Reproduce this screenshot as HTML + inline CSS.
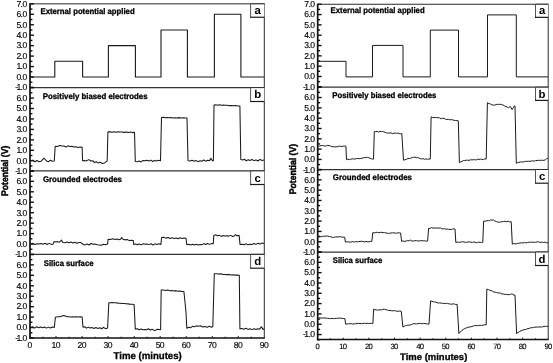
<!DOCTYPE html>
<html><head><meta charset="utf-8"><title>Potential vs time</title>
<style>
html,body{margin:0;padding:0;background:#fff;}
body{width:553px;height:363px;overflow:hidden;}
svg{display:block;}
text{font-family:'Liberation Sans', Arial, sans-serif;fill:#000;text-rendering:geometricPrecision;}
.yl{font-size:8.6px;text-anchor:end;letter-spacing:-0.6px;stroke:#111;stroke-width:0.15px;}
.xl{font-size:8.6px;text-anchor:middle;letter-spacing:-0.6px;stroke:#111;stroke-width:0.15px;}
.tt{font-size:8.2px;font-weight:bold;stroke:#000;stroke-width:0.3px;}
.lt{font-size:11.4px;font-weight:bold;text-anchor:middle;}
.xt{font-size:9.6px;font-weight:bold;stroke:#000;stroke-width:0.3px;}
.yt{font-size:9.6px;font-weight:bold;text-anchor:middle;stroke:#000;stroke-width:0.45px;}
</style></head>
<body>
<svg width="553" height="363" viewBox="0 0 553 363">
<rect width="553" height="363" fill="#fff"/>
<line x1="30.0" y1="3.85" x2="264.3" y2="3.85" stroke="#2a2a2a" stroke-width="1"/>
<line x1="30.0" y1="87.6" x2="264.3" y2="87.6" stroke="#333" stroke-width="1.25"/>
<line x1="30.0" y1="170.9" x2="264.3" y2="170.9" stroke="#333" stroke-width="1.25"/>
<line x1="30.0" y1="254.4" x2="264.3" y2="254.4" stroke="#333" stroke-width="1.25"/>
<line x1="264.3" y1="3.35" x2="264.3" y2="338.0" stroke="#2a2a2a" stroke-width="1"/>
<line x1="29.2" y1="338.0" x2="264.8" y2="338.0" stroke="#111" stroke-width="1.5"/>
<line x1="30.0" y1="3.35" x2="30.0" y2="338.75" stroke="#111" stroke-width="1.7"/>
<line x1="30.0" y1="3.85" x2="33.9" y2="3.85" stroke="#111" stroke-width="1.4"/>
<text x="26.6" y="6.69" class="yl">7.0</text>
<line x1="30.0" y1="9.07" x2="32.4" y2="9.07" stroke="#111" stroke-width="1.4"/>
<line x1="30.0" y1="14.3" x2="33.9" y2="14.3" stroke="#111" stroke-width="1.4"/>
<text x="26.6" y="17.14" class="yl">6.0</text>
<line x1="30.0" y1="19.52" x2="32.4" y2="19.52" stroke="#111" stroke-width="1.4"/>
<line x1="30.0" y1="24.75" x2="33.9" y2="24.75" stroke="#111" stroke-width="1.4"/>
<text x="26.6" y="27.59" class="yl">5.0</text>
<line x1="30.0" y1="29.98" x2="32.4" y2="29.98" stroke="#111" stroke-width="1.4"/>
<line x1="30.0" y1="35.2" x2="33.9" y2="35.2" stroke="#111" stroke-width="1.4"/>
<text x="26.6" y="38.04" class="yl">4.0</text>
<line x1="30.0" y1="40.42" x2="32.4" y2="40.42" stroke="#111" stroke-width="1.4"/>
<line x1="30.0" y1="45.65" x2="33.9" y2="45.65" stroke="#111" stroke-width="1.4"/>
<text x="26.6" y="48.49" class="yl">3.0</text>
<line x1="30.0" y1="50.88" x2="32.4" y2="50.88" stroke="#111" stroke-width="1.4"/>
<line x1="30.0" y1="56.1" x2="33.9" y2="56.1" stroke="#111" stroke-width="1.4"/>
<text x="26.6" y="58.94" class="yl">2.0</text>
<line x1="30.0" y1="61.32" x2="32.4" y2="61.32" stroke="#111" stroke-width="1.4"/>
<line x1="30.0" y1="66.55" x2="33.9" y2="66.55" stroke="#111" stroke-width="1.4"/>
<text x="26.6" y="69.39" class="yl">1.0</text>
<line x1="30.0" y1="71.77" x2="32.4" y2="71.77" stroke="#111" stroke-width="1.4"/>
<line x1="30.0" y1="77" x2="33.9" y2="77" stroke="#111" stroke-width="1.4"/>
<text x="26.6" y="79.84" class="yl">0.0</text>
<line x1="30.0" y1="82.22" x2="32.4" y2="82.22" stroke="#111" stroke-width="1.4"/>
<line x1="30.0" y1="87.45" x2="33.9" y2="87.45" stroke="#111" stroke-width="1.4"/>
<text x="26.6" y="90.29" class="yl">1.0</text>
<text x="15.2" y="90.29" class="yl" style="text-anchor:start">-</text>
<line x1="30.0" y1="87.6" x2="33.9" y2="87.6" stroke="#111" stroke-width="1.4"/>
<line x1="30.0" y1="92.82" x2="32.4" y2="92.82" stroke="#111" stroke-width="1.4"/>
<line x1="30.0" y1="98.05" x2="33.9" y2="98.05" stroke="#111" stroke-width="1.4"/>
<text x="26.6" y="100.89" class="yl">6.0</text>
<line x1="30.0" y1="103.27" x2="32.4" y2="103.27" stroke="#111" stroke-width="1.4"/>
<line x1="30.0" y1="108.5" x2="33.9" y2="108.5" stroke="#111" stroke-width="1.4"/>
<text x="26.6" y="111.34" class="yl">5.0</text>
<line x1="30.0" y1="113.72" x2="32.4" y2="113.72" stroke="#111" stroke-width="1.4"/>
<line x1="30.0" y1="118.95" x2="33.9" y2="118.95" stroke="#111" stroke-width="1.4"/>
<text x="26.6" y="121.79" class="yl">4.0</text>
<line x1="30.0" y1="124.17" x2="32.4" y2="124.17" stroke="#111" stroke-width="1.4"/>
<line x1="30.0" y1="129.4" x2="33.9" y2="129.4" stroke="#111" stroke-width="1.4"/>
<text x="26.6" y="132.24" class="yl">3.0</text>
<line x1="30.0" y1="134.62" x2="32.4" y2="134.62" stroke="#111" stroke-width="1.4"/>
<line x1="30.0" y1="139.85" x2="33.9" y2="139.85" stroke="#111" stroke-width="1.4"/>
<text x="26.6" y="142.69" class="yl">2.0</text>
<line x1="30.0" y1="145.07" x2="32.4" y2="145.07" stroke="#111" stroke-width="1.4"/>
<line x1="30.0" y1="150.3" x2="33.9" y2="150.3" stroke="#111" stroke-width="1.4"/>
<text x="26.6" y="153.14" class="yl">1.0</text>
<line x1="30.0" y1="155.52" x2="32.4" y2="155.52" stroke="#111" stroke-width="1.4"/>
<line x1="30.0" y1="160.75" x2="33.9" y2="160.75" stroke="#111" stroke-width="1.4"/>
<text x="26.6" y="163.59" class="yl">0.0</text>
<line x1="30.0" y1="165.97" x2="32.4" y2="165.97" stroke="#111" stroke-width="1.4"/>
<line x1="30.0" y1="171.2" x2="33.9" y2="171.2" stroke="#111" stroke-width="1.4"/>
<text x="26.6" y="174.04" class="yl">1.0</text>
<text x="15.2" y="174.04" class="yl" style="text-anchor:start">-</text>
<line x1="30.0" y1="170.9" x2="33.9" y2="170.9" stroke="#111" stroke-width="1.4"/>
<line x1="30.0" y1="176.12" x2="32.4" y2="176.12" stroke="#111" stroke-width="1.4"/>
<line x1="30.0" y1="181.35" x2="33.9" y2="181.35" stroke="#111" stroke-width="1.4"/>
<text x="26.6" y="184.19" class="yl">6.0</text>
<line x1="30.0" y1="186.58" x2="32.4" y2="186.58" stroke="#111" stroke-width="1.4"/>
<line x1="30.0" y1="191.8" x2="33.9" y2="191.8" stroke="#111" stroke-width="1.4"/>
<text x="26.6" y="194.64" class="yl">5.0</text>
<line x1="30.0" y1="197.03" x2="32.4" y2="197.03" stroke="#111" stroke-width="1.4"/>
<line x1="30.0" y1="202.25" x2="33.9" y2="202.25" stroke="#111" stroke-width="1.4"/>
<text x="26.6" y="205.09" class="yl">4.0</text>
<line x1="30.0" y1="207.47" x2="32.4" y2="207.47" stroke="#111" stroke-width="1.4"/>
<line x1="30.0" y1="212.7" x2="33.9" y2="212.7" stroke="#111" stroke-width="1.4"/>
<text x="26.6" y="215.54" class="yl">3.0</text>
<line x1="30.0" y1="217.93" x2="32.4" y2="217.93" stroke="#111" stroke-width="1.4"/>
<line x1="30.0" y1="223.15" x2="33.9" y2="223.15" stroke="#111" stroke-width="1.4"/>
<text x="26.6" y="225.99" class="yl">2.0</text>
<line x1="30.0" y1="228.38" x2="32.4" y2="228.38" stroke="#111" stroke-width="1.4"/>
<line x1="30.0" y1="233.6" x2="33.9" y2="233.6" stroke="#111" stroke-width="1.4"/>
<text x="26.6" y="236.44" class="yl">1.0</text>
<line x1="30.0" y1="238.82" x2="32.4" y2="238.82" stroke="#111" stroke-width="1.4"/>
<line x1="30.0" y1="244.05" x2="33.9" y2="244.05" stroke="#111" stroke-width="1.4"/>
<text x="26.6" y="246.89" class="yl">0.0</text>
<line x1="30.0" y1="249.28" x2="32.4" y2="249.28" stroke="#111" stroke-width="1.4"/>
<line x1="30.0" y1="254.5" x2="33.9" y2="254.5" stroke="#111" stroke-width="1.4"/>
<text x="26.6" y="257.34" class="yl">1.0</text>
<text x="15.2" y="257.34" class="yl" style="text-anchor:start">-</text>
<line x1="30.0" y1="254.4" x2="33.9" y2="254.4" stroke="#111" stroke-width="1.4"/>
<line x1="30.0" y1="259.62" x2="32.4" y2="259.62" stroke="#111" stroke-width="1.4"/>
<line x1="30.0" y1="264.85" x2="33.9" y2="264.85" stroke="#111" stroke-width="1.4"/>
<text x="26.6" y="267.69" class="yl">6.0</text>
<line x1="30.0" y1="270.07" x2="32.4" y2="270.07" stroke="#111" stroke-width="1.4"/>
<line x1="30.0" y1="275.3" x2="33.9" y2="275.3" stroke="#111" stroke-width="1.4"/>
<text x="26.6" y="278.14" class="yl">5.0</text>
<line x1="30.0" y1="280.52" x2="32.4" y2="280.52" stroke="#111" stroke-width="1.4"/>
<line x1="30.0" y1="285.75" x2="33.9" y2="285.75" stroke="#111" stroke-width="1.4"/>
<text x="26.6" y="288.59" class="yl">4.0</text>
<line x1="30.0" y1="290.98" x2="32.4" y2="290.98" stroke="#111" stroke-width="1.4"/>
<line x1="30.0" y1="296.2" x2="33.9" y2="296.2" stroke="#111" stroke-width="1.4"/>
<text x="26.6" y="299.04" class="yl">3.0</text>
<line x1="30.0" y1="301.43" x2="32.4" y2="301.43" stroke="#111" stroke-width="1.4"/>
<line x1="30.0" y1="306.65" x2="33.9" y2="306.65" stroke="#111" stroke-width="1.4"/>
<text x="26.6" y="309.49" class="yl">2.0</text>
<line x1="30.0" y1="311.88" x2="32.4" y2="311.88" stroke="#111" stroke-width="1.4"/>
<line x1="30.0" y1="317.1" x2="33.9" y2="317.1" stroke="#111" stroke-width="1.4"/>
<text x="26.6" y="319.94" class="yl">1.0</text>
<line x1="30.0" y1="322.32" x2="32.4" y2="322.32" stroke="#111" stroke-width="1.4"/>
<line x1="30.0" y1="327.55" x2="33.9" y2="327.55" stroke="#111" stroke-width="1.4"/>
<text x="26.6" y="330.39" class="yl">0.0</text>
<line x1="30.0" y1="332.77" x2="32.4" y2="332.77" stroke="#111" stroke-width="1.4"/>
<line x1="30.0" y1="338" x2="33.9" y2="338" stroke="#111" stroke-width="1.4"/>
<text x="26.6" y="340.84" class="yl">1.0</text>
<text x="15.2" y="340.84" class="yl" style="text-anchor:start">-</text>
<text x="29.7" y="347.7" class="xl" style="font-size:8.6px;letter-spacing:-0.6px">0</text>
<line x1="43.02" y1="338.0" x2="43.02" y2="336.7" stroke="#111" stroke-width="1"/>
<line x1="56.03" y1="338.0" x2="56.03" y2="336.1" stroke="#111" stroke-width="1"/>
<text x="55.73" y="347.7" class="xl" style="font-size:8.6px;letter-spacing:-0.6px">10</text>
<line x1="69.05" y1="338.0" x2="69.05" y2="336.7" stroke="#111" stroke-width="1"/>
<line x1="82.07" y1="338.0" x2="82.07" y2="336.1" stroke="#111" stroke-width="1"/>
<text x="81.77" y="347.7" class="xl" style="font-size:8.6px;letter-spacing:-0.6px">20</text>
<line x1="95.08" y1="338.0" x2="95.08" y2="336.7" stroke="#111" stroke-width="1"/>
<line x1="108.1" y1="338.0" x2="108.1" y2="336.1" stroke="#111" stroke-width="1"/>
<text x="107.8" y="347.7" class="xl" style="font-size:8.6px;letter-spacing:-0.6px">30</text>
<line x1="121.12" y1="338.0" x2="121.12" y2="336.7" stroke="#111" stroke-width="1"/>
<line x1="134.13" y1="338.0" x2="134.13" y2="336.1" stroke="#111" stroke-width="1"/>
<text x="133.83" y="347.7" class="xl" style="font-size:8.6px;letter-spacing:-0.6px">40</text>
<line x1="147.15" y1="338.0" x2="147.15" y2="336.7" stroke="#111" stroke-width="1"/>
<line x1="160.16" y1="338.0" x2="160.16" y2="336.1" stroke="#111" stroke-width="1"/>
<text x="159.86" y="347.7" class="xl" style="font-size:8.6px;letter-spacing:-0.6px">50</text>
<line x1="173.18" y1="338.0" x2="173.18" y2="336.7" stroke="#111" stroke-width="1"/>
<line x1="186.2" y1="338.0" x2="186.2" y2="336.1" stroke="#111" stroke-width="1"/>
<text x="185.9" y="347.7" class="xl" style="font-size:8.6px;letter-spacing:-0.6px">60</text>
<line x1="199.21" y1="338.0" x2="199.21" y2="336.7" stroke="#111" stroke-width="1"/>
<line x1="212.23" y1="338.0" x2="212.23" y2="336.1" stroke="#111" stroke-width="1"/>
<text x="211.93" y="347.7" class="xl" style="font-size:8.6px;letter-spacing:-0.6px">70</text>
<line x1="225.25" y1="338.0" x2="225.25" y2="336.7" stroke="#111" stroke-width="1"/>
<line x1="238.26" y1="338.0" x2="238.26" y2="336.1" stroke="#111" stroke-width="1"/>
<text x="237.96" y="347.7" class="xl" style="font-size:8.6px;letter-spacing:-0.6px">80</text>
<line x1="251.28" y1="338.0" x2="251.28" y2="336.7" stroke="#111" stroke-width="1"/>
<text x="264" y="347.7" class="xl" style="font-size:8.6px;letter-spacing:-0.6px">90</text>
<text x="40.51" y="13.6" class="tt" textLength="94.13" lengthAdjust="spacingAndGlyphs">External potential applied</text>
<text x="42.76" y="98.5" class="tt" textLength="104.79" lengthAdjust="spacingAndGlyphs">Positively biased electrodes</text>
<text x="42.91" y="181.9" class="tt" textLength="79.05" lengthAdjust="spacingAndGlyphs">Grounded electrodes</text>
<text x="43.81" y="265.9" class="tt" textLength="49.65" lengthAdjust="spacingAndGlyphs">Silica surface</text>
<rect x="250.6" y="3.85" width="13.7" height="13.4" fill="#fff"/>
<line x1="250.6" y1="3.85" x2="250.6" y2="17.25" stroke="#555" stroke-width="1"/>
<line x1="250.1" y1="17.25" x2="264.3" y2="17.25" stroke="#1a1a1a" stroke-width="1.2"/>
<line x1="250.6" y1="3.85" x2="264.3" y2="3.85" stroke="#2a2a2a" stroke-width="1"/>
<text x="257.65" y="13.95" class="lt">a</text>
<rect x="250.6" y="87.6" width="13.7" height="13.9" fill="#fff"/>
<line x1="250.6" y1="87.6" x2="250.6" y2="101.5" stroke="#555" stroke-width="1"/>
<line x1="250.1" y1="101.5" x2="264.3" y2="101.5" stroke="#1a1a1a" stroke-width="1.2"/>
<line x1="250.6" y1="87.6" x2="264.3" y2="87.6" stroke="#2a2a2a" stroke-width="1"/>
<text x="257.65" y="98.4" class="lt">b</text>
<rect x="250.6" y="170.9" width="13.7" height="13.6" fill="#fff"/>
<line x1="250.6" y1="170.9" x2="250.6" y2="184.5" stroke="#555" stroke-width="1"/>
<line x1="250.1" y1="184.5" x2="264.3" y2="184.5" stroke="#1a1a1a" stroke-width="1.2"/>
<line x1="250.6" y1="170.9" x2="264.3" y2="170.9" stroke="#2a2a2a" stroke-width="1"/>
<text x="257.65" y="181.6" class="lt">c</text>
<rect x="250.6" y="254.4" width="13.7" height="13.8" fill="#fff"/>
<line x1="250.6" y1="254.4" x2="250.6" y2="268.2" stroke="#555" stroke-width="1"/>
<line x1="250.1" y1="268.2" x2="264.3" y2="268.2" stroke="#1a1a1a" stroke-width="1.2"/>
<line x1="250.6" y1="254.4" x2="264.3" y2="254.4" stroke="#2a2a2a" stroke-width="1"/>
<text x="257.65" y="265" class="lt">d</text>
<text x="113.5" y="358.5" class="xt" style="font-size:9.9px" textLength="68.3" lengthAdjust="spacingAndGlyphs">Time (minutes)</text>
<text transform="translate(7.5,170.8) rotate(-90)" x="0" y="0" class="yt" textLength="50.2" lengthAdjust="spacingAndGlyphs">Potential (V)</text>
<line x1="317.7" y1="4.25" x2="548.2" y2="4.25" stroke="#2a2a2a" stroke-width="1"/>
<line x1="317.7" y1="87.2" x2="548.2" y2="87.2" stroke="#333" stroke-width="1.25"/>
<line x1="317.7" y1="169.5" x2="548.2" y2="169.5" stroke="#333" stroke-width="1.25"/>
<line x1="317.7" y1="252.0" x2="548.2" y2="252.0" stroke="#333" stroke-width="1.25"/>
<line x1="548.2" y1="3.75" x2="548.2" y2="339.6" stroke="#2a2a2a" stroke-width="1"/>
<line x1="316.9" y1="339.6" x2="548.7" y2="339.6" stroke="#111" stroke-width="1.5"/>
<line x1="317.7" y1="3.75" x2="317.7" y2="340.35" stroke="#111" stroke-width="1.7"/>
<line x1="317.7" y1="4.25" x2="321.6" y2="4.25" stroke="#111" stroke-width="1.4"/>
<text x="314.4" y="7.09" class="yl">7.0</text>
<line x1="317.7" y1="9.41" x2="320.1" y2="9.41" stroke="#111" stroke-width="1.4"/>
<line x1="317.7" y1="14.57" x2="321.6" y2="14.57" stroke="#111" stroke-width="1.4"/>
<text x="314.4" y="17.41" class="yl">6.0</text>
<line x1="317.7" y1="19.73" x2="320.1" y2="19.73" stroke="#111" stroke-width="1.4"/>
<line x1="317.7" y1="24.89" x2="321.6" y2="24.89" stroke="#111" stroke-width="1.4"/>
<text x="314.4" y="27.73" class="yl">5.0</text>
<line x1="317.7" y1="30.05" x2="320.1" y2="30.05" stroke="#111" stroke-width="1.4"/>
<line x1="317.7" y1="35.21" x2="321.6" y2="35.21" stroke="#111" stroke-width="1.4"/>
<text x="314.4" y="38.05" class="yl">4.0</text>
<line x1="317.7" y1="40.37" x2="320.1" y2="40.37" stroke="#111" stroke-width="1.4"/>
<line x1="317.7" y1="45.53" x2="321.6" y2="45.53" stroke="#111" stroke-width="1.4"/>
<text x="314.4" y="48.37" class="yl">3.0</text>
<line x1="317.7" y1="50.69" x2="320.1" y2="50.69" stroke="#111" stroke-width="1.4"/>
<line x1="317.7" y1="55.85" x2="321.6" y2="55.85" stroke="#111" stroke-width="1.4"/>
<text x="314.4" y="58.69" class="yl">2.0</text>
<line x1="317.7" y1="61.01" x2="320.1" y2="61.01" stroke="#111" stroke-width="1.4"/>
<line x1="317.7" y1="66.17" x2="321.6" y2="66.17" stroke="#111" stroke-width="1.4"/>
<text x="314.4" y="69.01" class="yl">1.0</text>
<line x1="317.7" y1="71.33" x2="320.1" y2="71.33" stroke="#111" stroke-width="1.4"/>
<line x1="317.7" y1="76.49" x2="321.6" y2="76.49" stroke="#111" stroke-width="1.4"/>
<text x="314.4" y="79.33" class="yl">0.0</text>
<line x1="317.7" y1="81.65" x2="320.1" y2="81.65" stroke="#111" stroke-width="1.4"/>
<line x1="317.7" y1="86.81" x2="321.6" y2="86.81" stroke="#111" stroke-width="1.4"/>
<text x="314.4" y="89.65" class="yl">1.0</text>
<text x="303" y="89.65" class="yl" style="text-anchor:start">-</text>
<line x1="317.7" y1="87.2" x2="321.6" y2="87.2" stroke="#111" stroke-width="1.4"/>
<line x1="317.7" y1="92.36" x2="320.1" y2="92.36" stroke="#111" stroke-width="1.4"/>
<line x1="317.7" y1="97.52" x2="321.6" y2="97.52" stroke="#111" stroke-width="1.4"/>
<text x="314.4" y="100.36" class="yl">6.0</text>
<line x1="317.7" y1="102.68" x2="320.1" y2="102.68" stroke="#111" stroke-width="1.4"/>
<line x1="317.7" y1="107.84" x2="321.6" y2="107.84" stroke="#111" stroke-width="1.4"/>
<text x="314.4" y="110.68" class="yl">5.0</text>
<line x1="317.7" y1="113" x2="320.1" y2="113" stroke="#111" stroke-width="1.4"/>
<line x1="317.7" y1="118.16" x2="321.6" y2="118.16" stroke="#111" stroke-width="1.4"/>
<text x="314.4" y="121" class="yl">4.0</text>
<line x1="317.7" y1="123.32" x2="320.1" y2="123.32" stroke="#111" stroke-width="1.4"/>
<line x1="317.7" y1="128.48" x2="321.6" y2="128.48" stroke="#111" stroke-width="1.4"/>
<text x="314.4" y="131.32" class="yl">3.0</text>
<line x1="317.7" y1="133.64" x2="320.1" y2="133.64" stroke="#111" stroke-width="1.4"/>
<line x1="317.7" y1="138.8" x2="321.6" y2="138.8" stroke="#111" stroke-width="1.4"/>
<text x="314.4" y="141.64" class="yl">2.0</text>
<line x1="317.7" y1="143.96" x2="320.1" y2="143.96" stroke="#111" stroke-width="1.4"/>
<line x1="317.7" y1="149.12" x2="321.6" y2="149.12" stroke="#111" stroke-width="1.4"/>
<text x="314.4" y="151.96" class="yl">1.0</text>
<line x1="317.7" y1="154.28" x2="320.1" y2="154.28" stroke="#111" stroke-width="1.4"/>
<line x1="317.7" y1="159.44" x2="321.6" y2="159.44" stroke="#111" stroke-width="1.4"/>
<text x="314.4" y="162.28" class="yl">0.0</text>
<line x1="317.7" y1="164.6" x2="320.1" y2="164.6" stroke="#111" stroke-width="1.4"/>
<line x1="317.7" y1="169.76" x2="321.6" y2="169.76" stroke="#111" stroke-width="1.4"/>
<text x="314.4" y="172.6" class="yl">1.0</text>
<text x="303" y="172.6" class="yl" style="text-anchor:start">-</text>
<line x1="317.7" y1="169.5" x2="321.6" y2="169.5" stroke="#111" stroke-width="1.4"/>
<line x1="317.7" y1="174.66" x2="320.1" y2="174.66" stroke="#111" stroke-width="1.4"/>
<line x1="317.7" y1="179.82" x2="321.6" y2="179.82" stroke="#111" stroke-width="1.4"/>
<text x="314.4" y="182.66" class="yl">6.0</text>
<line x1="317.7" y1="184.98" x2="320.1" y2="184.98" stroke="#111" stroke-width="1.4"/>
<line x1="317.7" y1="190.14" x2="321.6" y2="190.14" stroke="#111" stroke-width="1.4"/>
<text x="314.4" y="192.98" class="yl">5.0</text>
<line x1="317.7" y1="195.3" x2="320.1" y2="195.3" stroke="#111" stroke-width="1.4"/>
<line x1="317.7" y1="200.46" x2="321.6" y2="200.46" stroke="#111" stroke-width="1.4"/>
<text x="314.4" y="203.3" class="yl">4.0</text>
<line x1="317.7" y1="205.62" x2="320.1" y2="205.62" stroke="#111" stroke-width="1.4"/>
<line x1="317.7" y1="210.78" x2="321.6" y2="210.78" stroke="#111" stroke-width="1.4"/>
<text x="314.4" y="213.62" class="yl">3.0</text>
<line x1="317.7" y1="215.94" x2="320.1" y2="215.94" stroke="#111" stroke-width="1.4"/>
<line x1="317.7" y1="221.1" x2="321.6" y2="221.1" stroke="#111" stroke-width="1.4"/>
<text x="314.4" y="223.94" class="yl">2.0</text>
<line x1="317.7" y1="226.26" x2="320.1" y2="226.26" stroke="#111" stroke-width="1.4"/>
<line x1="317.7" y1="231.42" x2="321.6" y2="231.42" stroke="#111" stroke-width="1.4"/>
<text x="314.4" y="234.26" class="yl">1.0</text>
<line x1="317.7" y1="236.58" x2="320.1" y2="236.58" stroke="#111" stroke-width="1.4"/>
<line x1="317.7" y1="241.74" x2="321.6" y2="241.74" stroke="#111" stroke-width="1.4"/>
<text x="314.4" y="244.58" class="yl">0.0</text>
<line x1="317.7" y1="246.9" x2="320.1" y2="246.9" stroke="#111" stroke-width="1.4"/>
<line x1="317.7" y1="252.06" x2="321.6" y2="252.06" stroke="#111" stroke-width="1.4"/>
<text x="314.4" y="254.9" class="yl">1.0</text>
<text x="303" y="254.9" class="yl" style="text-anchor:start">-</text>
<line x1="317.7" y1="252" x2="321.6" y2="252" stroke="#111" stroke-width="1.4"/>
<line x1="317.7" y1="257.16" x2="320.1" y2="257.16" stroke="#111" stroke-width="1.4"/>
<line x1="317.7" y1="262.32" x2="321.6" y2="262.32" stroke="#111" stroke-width="1.4"/>
<text x="314.4" y="265.16" class="yl">6.0</text>
<line x1="317.7" y1="267.48" x2="320.1" y2="267.48" stroke="#111" stroke-width="1.4"/>
<line x1="317.7" y1="272.64" x2="321.6" y2="272.64" stroke="#111" stroke-width="1.4"/>
<text x="314.4" y="275.48" class="yl">5.0</text>
<line x1="317.7" y1="277.8" x2="320.1" y2="277.8" stroke="#111" stroke-width="1.4"/>
<line x1="317.7" y1="282.96" x2="321.6" y2="282.96" stroke="#111" stroke-width="1.4"/>
<text x="314.4" y="285.8" class="yl">4.0</text>
<line x1="317.7" y1="288.12" x2="320.1" y2="288.12" stroke="#111" stroke-width="1.4"/>
<line x1="317.7" y1="293.28" x2="321.6" y2="293.28" stroke="#111" stroke-width="1.4"/>
<text x="314.4" y="296.12" class="yl">3.0</text>
<line x1="317.7" y1="298.44" x2="320.1" y2="298.44" stroke="#111" stroke-width="1.4"/>
<line x1="317.7" y1="303.6" x2="321.6" y2="303.6" stroke="#111" stroke-width="1.4"/>
<text x="314.4" y="306.44" class="yl">2.0</text>
<line x1="317.7" y1="308.76" x2="320.1" y2="308.76" stroke="#111" stroke-width="1.4"/>
<line x1="317.7" y1="313.92" x2="321.6" y2="313.92" stroke="#111" stroke-width="1.4"/>
<text x="314.4" y="316.76" class="yl">1.0</text>
<line x1="317.7" y1="319.08" x2="320.1" y2="319.08" stroke="#111" stroke-width="1.4"/>
<line x1="317.7" y1="324.24" x2="321.6" y2="324.24" stroke="#111" stroke-width="1.4"/>
<text x="314.4" y="327.08" class="yl">0.0</text>
<line x1="317.7" y1="329.4" x2="320.1" y2="329.4" stroke="#111" stroke-width="1.4"/>
<line x1="317.7" y1="334.56" x2="321.6" y2="334.56" stroke="#111" stroke-width="1.4"/>
<text x="314.4" y="337.4" class="yl">1.0</text>
<text x="303" y="337.4" class="yl" style="text-anchor:start">-</text>
<line x1="317.7" y1="339.72" x2="320.1" y2="339.72" stroke="#111" stroke-width="1.4"/>
<text x="317.23" y="349.3" class="xl" style="font-size:7.7px;letter-spacing:-0.75px">0</text>
<line x1="330.42" y1="339.6" x2="330.42" y2="338.3" stroke="#111" stroke-width="1"/>
<line x1="343.23" y1="339.6" x2="343.23" y2="337.7" stroke="#111" stroke-width="1"/>
<text x="342.86" y="349.3" class="xl" style="font-size:7.7px;letter-spacing:-0.75px">10</text>
<line x1="356.05" y1="339.6" x2="356.05" y2="338.3" stroke="#111" stroke-width="1"/>
<line x1="368.87" y1="339.6" x2="368.87" y2="337.7" stroke="#111" stroke-width="1"/>
<text x="368.49" y="349.3" class="xl" style="font-size:7.7px;letter-spacing:-0.75px">20</text>
<line x1="381.68" y1="339.6" x2="381.68" y2="338.3" stroke="#111" stroke-width="1"/>
<line x1="394.5" y1="339.6" x2="394.5" y2="337.7" stroke="#111" stroke-width="1"/>
<text x="394.12" y="349.3" class="xl" style="font-size:7.7px;letter-spacing:-0.75px">30</text>
<line x1="407.32" y1="339.6" x2="407.32" y2="338.3" stroke="#111" stroke-width="1"/>
<line x1="420.13" y1="339.6" x2="420.13" y2="337.7" stroke="#111" stroke-width="1"/>
<text x="419.76" y="349.3" class="xl" style="font-size:7.7px;letter-spacing:-0.75px">40</text>
<line x1="432.95" y1="339.6" x2="432.95" y2="338.3" stroke="#111" stroke-width="1"/>
<line x1="445.76" y1="339.6" x2="445.76" y2="337.7" stroke="#111" stroke-width="1"/>
<text x="445.39" y="349.3" class="xl" style="font-size:7.7px;letter-spacing:-0.75px">50</text>
<line x1="458.58" y1="339.6" x2="458.58" y2="338.3" stroke="#111" stroke-width="1"/>
<line x1="471.4" y1="339.6" x2="471.4" y2="337.7" stroke="#111" stroke-width="1"/>
<text x="471.02" y="349.3" class="xl" style="font-size:7.7px;letter-spacing:-0.75px">60</text>
<line x1="484.21" y1="339.6" x2="484.21" y2="338.3" stroke="#111" stroke-width="1"/>
<line x1="497.03" y1="339.6" x2="497.03" y2="337.7" stroke="#111" stroke-width="1"/>
<text x="496.66" y="349.3" class="xl" style="font-size:7.7px;letter-spacing:-0.75px">70</text>
<line x1="509.85" y1="339.6" x2="509.85" y2="338.3" stroke="#111" stroke-width="1"/>
<line x1="522.66" y1="339.6" x2="522.66" y2="337.7" stroke="#111" stroke-width="1"/>
<text x="522.29" y="349.3" class="xl" style="font-size:7.7px;letter-spacing:-0.75px">80</text>
<line x1="535.48" y1="339.6" x2="535.48" y2="338.3" stroke="#111" stroke-width="1"/>
<text x="547.92" y="349.3" class="xl" style="font-size:7.7px;letter-spacing:-0.75px">90</text>
<text x="330.61" y="12.9" class="tt" textLength="94.03" lengthAdjust="spacingAndGlyphs">External potential applied</text>
<text x="332.21" y="97.5" class="tt" textLength="104.24" lengthAdjust="spacingAndGlyphs">Positively biased electrodes</text>
<text x="332.81" y="180.3" class="tt" textLength="79.15" lengthAdjust="spacingAndGlyphs">Grounded electrodes</text>
<text x="332.82" y="262.8" class="tt" textLength="49.45" lengthAdjust="spacingAndGlyphs">Silica surface</text>
<rect x="535.5" y="4.25" width="12.7" height="13.1" fill="#fff"/>
<line x1="535.5" y1="4.25" x2="535.5" y2="17.35" stroke="#555" stroke-width="1"/>
<line x1="535" y1="17.35" x2="548.2" y2="17.35" stroke="#1a1a1a" stroke-width="1.2"/>
<line x1="535.5" y1="4.25" x2="548.2" y2="4.25" stroke="#2a2a2a" stroke-width="1"/>
<text x="542.05" y="14.45" class="lt">a</text>
<rect x="535.5" y="87.2" width="12.7" height="13.2" fill="#fff"/>
<line x1="535.5" y1="87.2" x2="535.5" y2="100.4" stroke="#555" stroke-width="1"/>
<line x1="535" y1="100.4" x2="548.2" y2="100.4" stroke="#1a1a1a" stroke-width="1.2"/>
<line x1="535.5" y1="87.2" x2="548.2" y2="87.2" stroke="#2a2a2a" stroke-width="1"/>
<text x="542.05" y="97.9" class="lt">b</text>
<rect x="535.5" y="169.5" width="12.7" height="13.7" fill="#fff"/>
<line x1="535.5" y1="169.5" x2="535.5" y2="183.2" stroke="#555" stroke-width="1"/>
<line x1="535" y1="183.2" x2="548.2" y2="183.2" stroke="#1a1a1a" stroke-width="1.2"/>
<line x1="535.5" y1="169.5" x2="548.2" y2="169.5" stroke="#2a2a2a" stroke-width="1"/>
<text x="542.05" y="179.9" class="lt">c</text>
<rect x="535.5" y="252.0" width="12.7" height="13.5" fill="#fff"/>
<line x1="535.5" y1="252.0" x2="535.5" y2="265.5" stroke="#555" stroke-width="1"/>
<line x1="535" y1="265.5" x2="548.2" y2="265.5" stroke="#1a1a1a" stroke-width="1.2"/>
<line x1="535.5" y1="252.0" x2="548.2" y2="252.0" stroke="#2a2a2a" stroke-width="1"/>
<text x="542.05" y="263.1" class="lt">d</text>
<text x="400.1" y="359.9" class="xt" style="font-size:9.4px" textLength="67.2" lengthAdjust="spacingAndGlyphs">Time (minutes)</text>
<text transform="translate(295.6,169.1) rotate(-90)" x="0" y="0" class="yt" textLength="50.2" lengthAdjust="spacingAndGlyphs">Potential (V)</text>
<path d="M30.8,77 L54.8,77 L54.8,61.3 L82.6,61.3 L82.6,77 L108.4,77 L108.4,45.6 L135.4,45.6 L135.4,77 L161,77 L161,30 L187.4,30 L187.4,77 L214.4,77 L214.4,14.2 L240.9,14.2 L240.9,77 L264,77" fill="none" stroke="#1a1a1a" stroke-width="1.1" stroke-linejoin="round"/>
<path d="M30.8,160.6 L32.84,160.14 L34.88,161.73 L36.92,160.48 L38.96,161.73 L41,161.3 L43.9,158.2 L46.5,161 L48.45,161.65 L50.4,160.24 L52.35,161.29 L54.3,161 L55.2,146.3 L57.47,146.44 L59.73,145.6 L62,146.1 L64,146.04 L66,147 L68,145.83 L70,146.6 L72.02,146.25 L74.03,147.08 L76.05,146.78 L78.07,147.49 L80.08,146.99 L82.1,147.3 L82.6,160.8 L84.3,160.51 L86,161 L88.8,159.6 L91,161 L92.75,160.68 L94.5,162.53 L96.25,161.77 L98,162.9 L100.2,162.23 L102.4,163.43 L104.6,162.9 L107.2,160.8 L107.9,132 L109.92,131.64 L111.93,132.32 L113.95,131.72 L115.97,132.18 L117.98,131.85 L120,132 L122.07,131.93 L124.14,132.38 L126.21,131.93 L128.29,132.49 L130.36,132.02 L132.43,132.61 L134.5,132.3 L135.3,161.6 L137.24,161.67 L139.18,160.91 L141.12,161.96 L143.06,160.42 L145,160.8 L146.94,160.31 L148.88,161.07 L150.81,160.15 L152.75,161.55 L154.69,160.39 L156.62,161.08 L158.56,160.35 L160.5,160.8 L161.5,117.6 L163.43,117.37 L165.36,117.73 L167.29,117.51 L169.21,117.75 L171.14,117.58 L173.07,117.94 L175,117.7 L177,117.95 L179,117.62 L181,117.97 L183,117.66 L185,118.05 L187,118 L188,160.8 L190,161.1 L192,160.29 L194,161.17 L196,160.39 L198,161.68 L200,160.8 L201.9,161.23 L203.8,159.98 L205.7,161.17 L207.6,160.31 L209.5,160.8 L210.8,158.2 L212.2,160.6 L213.4,160.6 L214,104.9 L215.83,104.7 L217.67,105.15 L219.5,104.74 L221.33,105.31 L223.17,105.07 L225,105.3 L227.13,105.21 L229.26,105.64 L231.39,105.45 L233.51,105.76 L235.64,105.48 L237.77,105.97 L239.9,105.9 L240.8,159.4 L242.64,160.08 L244.48,159.27 L246.32,160.87 L248.16,159.65 L250,160.4 L252,159.53 L254,160.63 L256,159.9 L258,161.01 L260,159.34 L262,160.45 L264,160" fill="none" stroke="#1a1a1a" stroke-width="1.05" stroke-linejoin="round"/>
<path d="M30.8,243.9 L32.85,243.36 L34.89,244.44 L36.94,243.64 L38.98,244.09 L41.03,243.52 L43.07,244.23 L45.12,243.28 L47.16,244.45 L49.21,243.4 L51.25,244.38 L53.3,243.9 L54.1,241.5 L55.83,242.03 L57.57,241.62 L59.3,242.3 L61.5,240.1 L62.8,242.6 L64.82,242.81 L66.84,241.98 L68.87,242.82 L70.89,242.05 L72.91,242.96 L74.93,242.2 L76.96,243.23 L78.98,242.41 L81,242.6 L83.2,244.5 L85.17,244.87 L87.13,244.1 L89.1,244.96 L91.07,243.48 L93.03,244.32 L95,244 L97.2,244.7 L99.4,244.9 L101.45,245.22 L103.5,244.23 L105.55,244.86 L107.6,244.1 L108.1,239.2 L110.4,239.54 L112.7,238.71 L115,239.4 L116.87,238.93 L118.73,239.77 L120.6,239.2 L121.6,237.6 L123,239.2 L125.1,239.86 L127.2,239.55 L129.3,240.6 L131.4,240.3 L133.3,240.5 L133.8,244.6 L135.67,243.99 L137.53,244.84 L139.4,244.02 L141.27,244.89 L143.13,243.72 L145,244.2 L146.99,243.92 L148.97,244.63 L150.96,243.82 L152.95,244.92 L154.94,243.87 L156.93,244.55 L158.91,243.75 L160.9,244.4 L161.6,237.5 L163.72,237.21 L165.83,238.13 L167.95,237.59 L170.07,238.56 L172.18,237.74 L174.3,238.5 L176.25,237.99 L178.2,238.71 L180.15,237.84 L182.1,238.57 L184.05,238 L186,238.3 L186.8,244.8 L188.69,244.23 L190.57,244.92 L192.46,244.24 L194.34,244.92 L196.23,244.25 L198.11,244.98 L200,244.5 L201.9,244.84 L203.8,243.6 L205.7,244.47 L207.6,243.42 L209.5,244.38 L211.4,243.62 L213.3,243.8 L213.8,235.4 L215.67,234.83 L217.53,235.78 L219.4,235.38 L221.27,236.4 L223.13,235.54 L225,236 L226.9,235.78 L228.8,236.12 L230.7,235.37 L232.6,236.55 L234.5,235.8 L235.5,234.5 L236.6,235.6 L239.2,235.6 L240,244.4 L242,244.17 L244,244.67 L246,243.67 L248,244.87 L250,244.2 L252,244.42 L254,243.56 L256,244.38 L258,243.34 L260,244.09 L262,242.99 L264,243.6" fill="none" stroke="#1a1a1a" stroke-width="1.05" stroke-linejoin="round"/>
<path d="M30.8,327.5 L32.76,326.85 L34.72,328.12 L36.67,326.73 L38.63,327.79 L40.59,327.1 L42.55,327.75 L44.51,327.09 L46.47,328.11 L48.42,327.13 L50.38,327.96 L52.34,327.06 L54.3,327.4 L55.4,317.2 L57.7,316.79 L60,316.8 L61.95,315.9 L63.9,315.5 L65.4,316.1 L66.9,316.8 L68.8,316.7 L70.7,316.93 L72.6,316.73 L74.5,316.95 L76.4,316.77 L78.3,316.99 L80.2,316.79 L82.1,316.9 L83,327.3 L84.75,326.73 L86.5,328.17 L88.25,327.14 L90,328 L91.96,327.52 L93.91,328.44 L95.87,327.52 L97.82,328.41 L99.78,327.72 L101.73,328.73 L103.69,327.29 L105.64,328.83 L107.6,328 L108.8,302.7 L110.4,302.76 L112,302.5 L114.01,302.72 L116.02,302.77 L118.03,303.12 L120.04,303.18 L122.05,303.46 L124.05,303.51 L126.06,303.83 L128.07,303.88 L130.08,304.22 L132.09,304.25 L134.1,304.5 L135.3,329.1 L137.24,328.68 L139.18,329.66 L141.12,329.04 L143.06,329.83 L145,329.6 L146.75,329.76 L148.5,328.78 L150.25,330.11 L152,329.2 L154.8,330.6 L157.2,329.3 L159.6,329.6 L160.6,329.6 L161.2,289.9 L163.36,289.93 L165.52,290.44 L167.68,290.06 L169.84,290.68 L172,290.6 L173.98,290.92 L175.97,290.63 L177.95,291.32 L179.93,290.94 L181.92,291.47 L183.9,291.5 L186,312 L186.8,328.2 L188.7,327.19 L190.6,327.8 L192.5,326.33 L194.4,326.8 L196.3,325.88 L198.2,326.3 L200.47,325.8 L202.73,327.08 L205,326.6 L207.17,327.24 L209.33,326.33 L211.5,327.2 L212.8,326.6 L214.3,273.7 L216.44,273.67 L218.58,274.11 L220.72,273.85 L222.86,274.38 L225,274.4 L227.04,274.62 L229.09,274.44 L231.13,274.99 L233.17,274.72 L235.21,275.13 L237.26,275 L239.3,275.3 L239.9,328.8 L241.91,328.61 L243.93,329.16 L245.94,328.19 L247.95,329.39 L249.96,328.78 L251.97,329.63 L253.99,328.74 L256,329.4 L257.75,328.79 L259.5,329.2 L261.4,326.8 L263,329.4 L264,329" fill="none" stroke="#1a1a1a" stroke-width="1.05" stroke-linejoin="round"/>
<path d="M318.4,61.3 L346,61.3 L346,76.9 L372.5,76.9 L372.5,45.4 L403,45.4 L403,76.9 L430.3,76.9 L430.3,30.1 L458.5,30.1 L458.5,76.9 L487.5,76.9 L487.5,14.9 L516.3,14.9 L516.3,76.9 L548,76.9" fill="none" stroke="#1a1a1a" stroke-width="1.0" stroke-linejoin="round"/>
<path d="M318.4,145.8 L319.74,146.1 L321.07,145.56 L322.41,145.51 L323.75,145.79 L325.09,146.1 L326.43,145.76 L327.76,145.35 L329.1,145.6 L330.48,145.94 L331.85,146.7 L333.23,146.66 L334.6,147 L336.08,146.71 L337.57,146.84 L339.05,146.06 L340.53,146.42 L342.02,146.46 L343.5,146.1 L344.7,146.09 L345.9,146.1 L346.5,159.6 L347.91,159.11 L349.32,159.64 L350.74,159.26 L352.15,158.87 L353.56,158.92 L354.98,159.1 L356.39,158.54 L357.8,158.5 L359.21,158.65 L360.63,158.51 L362.04,158.36 L363.46,157.63 L364.87,157.79 L366.29,157.43 L367.7,157.4 L368.95,157.87 L370.2,158.36 L371.45,158.89 L372.7,159.1 L373.5,159.1 L374.3,131.6 L375.72,131.61 L377.14,131.4 L378.56,132.05 L379.98,131.42 L381.4,131.5 L382.62,131.46 L383.85,131.85 L385.07,132.31 L386.3,132.8 L387.84,133.07 L389.38,133.04 L390.92,132.89 L392.46,133.58 L394,133.2 L395.3,133 L396.6,133.46 L397.9,133.05 L399.2,133.49 L400.5,133.76 L401.8,133.5 L403.5,160.2 L405,159.79 L406.5,159.25 L408,158.44 L409.5,158.5 L410.88,158.16 L412.25,157.41 L413.62,157.32 L415,157.1 L416.32,157.84 L417.64,157.45 L418.96,158.04 L420.28,158.61 L421.6,158.9 L423.05,158.64 L424.5,159.39 L425.95,158.83 L427.4,159.28 L428.85,159.03 L430.3,159.1 L431.1,116.9 L432.53,117.46 L433.96,117.47 L435.39,117.55 L436.83,117.52 L438.26,117.8 L439.69,117.84 L441.12,118.77 L442.55,118.22 L443.98,118.21 L445.42,119.31 L446.85,119.43 L448.28,119.29 L449.71,119.75 L451.14,119.61 L452.57,119.87 L454.01,120.3 L455.44,120.48 L456.87,120.51 L458.3,120.8 L459.4,162.5 L460.7,162.05 L462,161.27 L463.3,160.6 L464.73,160.54 L466.16,160.22 L467.59,160.2 L469.01,160.43 L470.44,159.73 L471.87,159.95 L473.3,159.7 L474.73,159.7 L476.17,159.96 L477.6,159.21 L479.03,159.43 L480.47,159.17 L481.9,159.29 L483.33,159.67 L484.77,158.89 L486.2,159.1 L487.4,102.7 L488.9,103.58 L490.4,103.95 L491.9,104.89 L493.4,105.1 L494.72,105.15 L496.04,104.53 L497.36,104.29 L498.68,104.52 L500,104.2 L501.53,104.51 L503.07,105.04 L504.6,105.9 L505.87,106.57 L507.13,106.89 L508.4,107.8 L510.3,106.4 L512.1,109.6 L513.25,107.8 L514.4,105.9 L515,106 L516.3,163.3 L517.6,162.56 L518.9,162.39 L520.2,162.08 L521.5,161.8 L522.91,162.03 L524.33,161.66 L525.74,161.35 L527.15,161.39 L528.56,161.24 L529.97,161.32 L531.39,160.97 L532.8,160.8 L534.2,161.2 L535.6,160.59 L537,160.48 L538.4,160.29 L539.8,160.42 L541.2,160.21 L542.6,160.37 L544,160.3 L545.27,159.85 L546.53,158.66 L547.8,158.4" fill="none" stroke="#1a1a1a" stroke-width="1.0" stroke-linejoin="round"/>
<path d="M318.4,236.3 L319.74,236.25 L321.09,236.88 L322.43,236.31 L323.77,236.22 L325.11,236.24 L326.46,236.03 L327.8,236.1 L329.3,236.63 L330.8,236.58 L332.3,237.39 L333.8,237.4 L335.43,236.92 L337.07,236.88 L338.7,237 L340.2,236.6 L341.7,237.08 L343.2,237.08 L344.7,237.2 L345.4,242.1 L346.86,241.8 L348.32,241.91 L349.78,242.08 L351.24,242.07 L352.7,241.51 L354.16,242.17 L355.62,241.5 L357.08,241.96 L358.54,241.48 L360,241.5 L361.48,241.25 L362.95,241.47 L364.43,241.98 L365.9,241.37 L367.38,241.81 L368.85,241.77 L370.32,241.42 L371.8,241.5 L372.8,232.6 L374.3,232.93 L375.8,232.42 L377.3,232.3 L378.8,232.71 L380.3,232.45 L381.8,232.3 L383.15,232.61 L384.5,232.52 L385.85,232.97 L387.2,233.2 L388.5,233.39 L389.8,233.33 L391.1,232.96 L392.4,232.77 L393.7,233 L395.08,232.89 L396.46,233.37 L397.84,232.71 L399.22,232.92 L400.6,233 L401.6,241.3 L403.15,240.97 L404.7,241.35 L406.25,241.02 L407.8,240.6 L409.21,240.87 L410.63,240.1 L412.04,241.07 L413.46,241.05 L414.87,240.64 L416.29,240.66 L417.7,240.88 L419.11,240.97 L420.53,240.75 L421.94,240.63 L423.36,240.84 L424.77,240.81 L426.19,241.21 L427.6,241 L428.6,228.3 L430.07,228.36 L431.54,227.65 L433.01,228.08 L434.49,228.05 L435.96,227.97 L437.43,228.09 L438.9,228.1 L440.3,227.86 L441.7,228.74 L443.1,228.92 L444.5,228.7 L445.9,229.21 L447.3,228.96 L448.7,229.4 L449.96,229.28 L451.22,229.59 L452.48,229.14 L453.74,228.74 L455,229 L455.8,242.4 L457.18,242.23 L458.55,242.17 L459.93,242.4 L461.31,241.85 L462.68,241.81 L464.06,241.86 L465.44,242.46 L466.82,242.19 L468.19,241.98 L469.57,241.93 L470.95,242.23 L472.32,242.35 L473.7,242 L475,242.13 L476.3,242.71 L477.6,242.33 L478.9,242.16 L480.2,242.38 L481.5,242.38 L482.8,242.4 L483.6,221.2 L485.3,221.17 L487,220.8 L488.26,220.58 L489.52,220.7 L490.78,219.86 L492.04,220.16 L493.3,219.9 L494.8,220.85 L496.3,221.61 L497.8,222 L499.28,222.28 L500.76,221.86 L502.24,221.7 L503.72,221.43 L505.2,221.4 L506.7,221.75 L508.2,221.25 L509.7,221.9 L511.2,221.7 L512.3,244.2 L513.58,243.51 L514.87,243.8 L516.15,243.92 L517.43,243.38 L518.72,243.36 L520,243 L521.47,242.72 L522.94,243.14 L524.41,242.35 L525.89,242.91 L527.36,242.57 L528.83,242.24 L530.3,242.2 L531.66,242.16 L533.02,242.25 L534.38,242.27 L535.75,242.27 L537.11,241.83 L538.47,241.81 L539.83,242.46 L541.19,242.24 L542.55,242.28 L543.92,242.4 L545.28,242.18 L546.64,242.89 L548,242.5" fill="none" stroke="#1a1a1a" stroke-width="1.0" stroke-linejoin="round"/>
<path d="M318.4,317.9 L319.74,317.74 L321.09,318.08 L322.43,318.02 L323.77,317.96 L325.11,318.07 L326.46,318.14 L327.8,318.3 L329.2,318.43 L330.6,318.63 L332,318.37 L333.4,318.66 L334.8,318.44 L336.2,318.32 L337.6,318.3 L339.06,318.13 L340.52,318.05 L341.98,318.45 L343.44,318.49 L344.9,318.6 L345.6,324.1 L347.04,324.11 L348.48,323.7 L349.92,323.77 L351.36,323.63 L352.8,324.07 L354.24,323.76 L355.68,323.76 L357.12,323.48 L358.56,323.34 L360,323.6 L361.43,323.54 L362.87,323.69 L364.3,323.13 L365.73,323.63 L367.17,323.29 L368.6,323.37 L370.03,323.41 L371.47,323.37 L372.9,323.5 L373.6,309.2 L374.87,309.77 L376.13,309.83 L377.4,310 L378.75,309.98 L380.1,309.81 L381.45,309.84 L382.8,309.4 L384.25,309.23 L385.7,309.64 L387.15,309.94 L388.6,310.46 L390.05,310.44 L391.5,310.7 L392.9,310.85 L394.3,310.6 L395.7,310.99 L397.1,311.21 L398.5,311.28 L399.9,310.94 L401.3,311.4 L402.9,327 L404.17,326.4 L405.43,325.67 L406.7,325.5 L407.8,325.08 L408.9,325.2 L410.33,324.85 L411.77,324.47 L413.2,323.7 L414.72,323.73 L416.24,323.96 L417.76,323.63 L419.28,323.34 L420.8,323.5 L422.17,323.69 L423.53,323.45 L424.9,323.49 L426.27,323.82 L427.63,324 L429,324.1 L430.6,300.9 L431.88,301.18 L433.16,301.63 L434.44,302.05 L435.72,302.03 L437,302.6 L438.37,303.19 L439.73,302.74 L441.1,303.12 L442.47,303.35 L443.83,303.32 L445.2,303.6 L446.52,303.34 L447.84,303.66 L449.17,303.83 L450.49,304.11 L451.81,304.16 L453.13,303.95 L454.46,303.92 L455.78,304.56 L457.1,304.3 L458.9,333.6 L460.2,332.14 L461.5,330.8 L463.1,329.54 L464.7,328.6 L466.13,327.98 L467.57,327.43 L469,327 L470.47,326.99 L471.93,326.39 L473.4,326 L474.72,325.54 L476.04,325.58 L477.36,325.7 L478.68,325.51 L480,325.2 L481.55,325.42 L483.1,325.15 L484.65,324.8 L486.2,324.9 L486.8,289.1 L488.4,289.62 L490,290.3 L491.3,290.67 L492.6,291.28 L493.9,292.01 L495.2,292.2 L496.55,292.55 L497.9,292.8 L499.25,293.08 L500.6,293.1 L501.95,293.99 L503.3,294 L504.85,294.4 L506.4,294.37 L507.95,294.68 L509.5,294.6 L510.7,294.4 L511.9,293.7 L512.95,294.53 L514,295.1 L515,295.2 L516.6,333.6 L518.05,332.49 L519.5,331.6 L521,330.73 L522.5,330.25 L524,329.7 L525.33,329.56 L526.67,329.12 L528,328.5 L529.38,328.42 L530.75,327.73 L532.12,327.74 L533.5,327.4 L534.81,327.19 L536.12,327.11 L537.44,327.03 L538.75,327.15 L540.06,326.76 L541.38,327.22 L542.69,326.61 L544,326.6 L545.33,326.19 L546.67,326.49 L548,326.2" fill="none" stroke="#1a1a1a" stroke-width="1.0" stroke-linejoin="round"/>
</svg>
</body></html>
